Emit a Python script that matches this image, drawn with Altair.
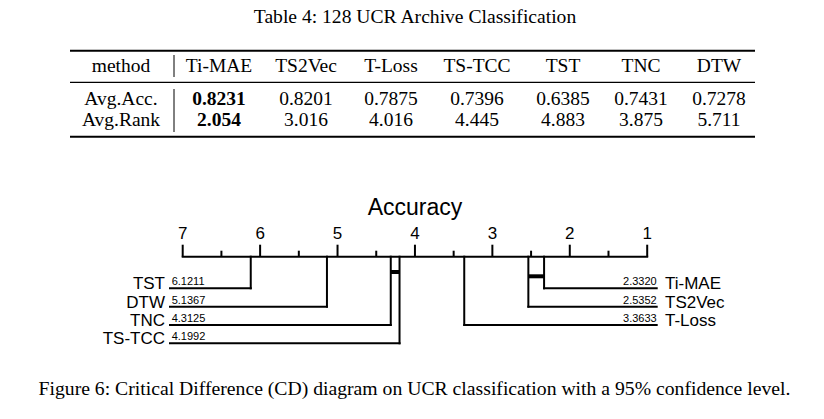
import altair as alt
import pandas as pd

# ---------------- data ----------------
methods = ["Ti-MAE", "TS2Vec", "T-Loss", "TS-TCC", "TST", "TNC", "DTW"]
avg_acc = [0.8231, 0.8201, 0.7875, 0.7396, 0.6385, 0.7431, 0.7278]
avg_rank = [2.054, 3.016, 4.016, 4.445, 4.883, 3.875, 5.711]
row_names = ["method", "Avg.Acc.", "Avg.Rank"]

cd_methods = ["TST", "DTW", "TNC", "TS-TCC", "T-Loss", "TS2Vec", "Ti-MAE"]
cd_ranks = [6.1211, 5.1367, 4.3125, 4.1992, 3.3633, 2.5352, 2.3320]
clique_low = [4.1992, 2.3320]
clique_high = [4.3125, 2.5352]
major_ticks = [1, 2, 3, 4, 5, 6, 7]
minor_ticks = [1.5, 2.5, 3.5, 4.5, 5.5, 6.5]

table_title = "Table 4: 128 UCR Archive Classification"
caption = "Figure 6: Critical Difference (CD) diagram on UCR classification with a 95% confidence level."
axis_title = "Accuracy"

SERIF = "Liberation Serif"
SANS = "Liberation Sans"

# ---------------- table frame ----------------
cells = []
for r, name in enumerate(row_names):
    cells.append({"ci": 0, "ri": r, "text": name, "bold": False})
best_acc = max(avg_acc)
best_rank = min(avg_rank)
for i, m in enumerate(methods):
    cells.append({"ci": i + 1, "ri": 0, "text": m, "bold": False})
    cells.append({"ci": i + 1, "ri": 1, "text": f"{avg_acc[i]:.4f}", "bold": avg_acc[i] == best_acc})
    cells.append({"ci": i + 1, "ri": 2, "text": f"{avg_rank[i]:.3f}", "bold": avg_rank[i] == best_rank})
cells = pd.DataFrame(cells)

tab_x = alt.Scale(domain=list(range(8)), range=[113, 211, 298, 383, 469, 555, 633, 711], nice=False, zero=False)
tab_y = alt.Scale(domain=[0, 1, 2], range=[63.7, 97, 117.7], nice=False, zero=False)

def table_text(bold):
    return alt.Chart(cells).transform_filter(
        "datum.bold" if bold else "!datum.bold"
    ).mark_text(
        font=SERIF, fontSize=19.5, baseline="alphabetic", align="center",
        color="black", fontWeight="bold" if bold else "normal"
    ).encode(
        x=alt.X("ci:Q", scale=tab_x, axis=None),
        y=alt.Y("ri:Q", scale=tab_y, axis=None),
        text="text:N",
    )

dummy = pd.DataFrame({"k": [0]})

def hrule(y, x1, x2, w):
    return alt.Chart(dummy).mark_rule(color="black", strokeWidth=w).encode(
        x=alt.value(x1), x2=alt.value(x2), y=alt.value(y))

def vrule(x, y1, y2, w):
    return alt.Chart(dummy).mark_rule(color="black", strokeWidth=w).encode(
        x=alt.value(x), y=alt.value(y1), y2=alt.value(y2))

title_layer = alt.Chart(dummy).mark_text(
    font=SERIF, fontSize=19.6, baseline="alphabetic", align="center", color="black",
    text=table_title
).encode(x=alt.value(407), y=alt.value(15.3))

caption_layer = alt.Chart(dummy).mark_text(
    font=SERIF, fontSize=19.7, baseline="alphabetic", align="center", color="black",
    text=caption
).encode(x=alt.value(406.5), y=alt.value(387))

# ---------------- CD diagram ----------------
cd = pd.DataFrame({"method": cd_methods, "rank": cd_ranks})
cd = cd.sort_values("rank", ascending=False).reset_index(drop=True)
n_left = (len(cd) + 1) // 2
left = cd.iloc[:n_left].copy()
left["side"] = "left"
left["row"] = range(len(left))
right = cd.iloc[n_left:].sort_values("rank").copy()
right["side"] = "right"
right["row"] = range(len(right))
cd = pd.concat([left, right], ignore_index=True)

AXIS_Y = 248.7
cd_x = alt.Scale(domain=[1, 7], range=[639.2, 174.7], nice=False, zero=False)
cd_y = alt.Scale(domain=[0, 3], range=[280.3, 335.3], nice=False, zero=False)

X = alt.X("rank:Q", scale=cd_x, axis=None)
Y = alt.Y("row:Q", scale=cd_y, axis=None)

ticks_df = pd.DataFrame({"t": major_ticks})
domain_df = pd.DataFrame({"lo": [min(major_ticks)], "hi": [max(major_ticks)],
                          "mid": [(min(major_ticks) + max(major_ticks)) / 2]})

axis_line = alt.Chart(domain_df).mark_rule(color="black", strokeWidth=2, strokeCap="square").encode(
    x=alt.X("lo:Q", scale=cd_x, axis=None), x2="hi:Q", y=alt.value(AXIS_Y))
major_layer = alt.Chart(ticks_df).mark_rule(color="black", strokeWidth=2).encode(
    x=alt.X("t:Q", scale=cd_x, axis=None), y=alt.value(AXIS_Y - 12), y2=alt.value(AXIS_Y))
minor_layer = alt.Chart(pd.DataFrame({"t": minor_ticks})).mark_rule(color="black", strokeWidth=2).encode(
    x=alt.X("t:Q", scale=cd_x, axis=None), y=alt.value(AXIS_Y - 6), y2=alt.value(AXIS_Y))
tick_labels = alt.Chart(ticks_df).mark_text(
    font=SANS, fontSize=17, align="center", baseline="alphabetic", color="black"
).encode(x=alt.X("t:Q", scale=cd_x, axis=None), y=alt.value(231), text=alt.Text("t:Q", format="d"))
axis_title_layer = alt.Chart(domain_df).mark_text(
    font=SANS, fontSize=23, align="center", baseline="alphabetic", color="black", text=axis_title
).encode(x=alt.X("mid:Q", scale=cd_x, axis=None), y=alt.value(207))

vert = alt.Chart(cd).mark_rule(color="black", strokeWidth=2, strokeCap="square").encode(
    x=X, y=Y, y2=alt.value(AXIS_Y))

horiz_left = alt.Chart(cd).transform_filter("datum.side == 'left'").mark_rule(
    color="black", strokeWidth=2, strokeCap="square").encode(x=X, x2=alt.value(162), y=Y)
horiz_right = alt.Chart(cd).transform_filter("datum.side == 'right'").mark_rule(
    color="black", strokeWidth=2, strokeCap="square").encode(x=X, x2=alt.value(648.7), y=Y)

name_left = alt.Chart(cd).transform_filter("datum.side == 'left'").mark_text(
    font=SANS, fontSize=17, align="right", baseline="alphabetic", dy=1, color="black"
).encode(x=alt.value(157), y=Y, text="method:N")
name_right = alt.Chart(cd).transform_filter("datum.side == 'right'").mark_text(
    font=SANS, fontSize=17, align="left", baseline="alphabetic", dy=1, color="black"
).encode(x=alt.value(657), y=Y, text="method:N")

val_left = alt.Chart(cd).transform_filter("datum.side == 'left'").mark_text(
    font=SANS, fontSize=11, align="left", baseline="alphabetic", dy=-3, color="black"
).encode(x=alt.value(163.7), y=Y, text=alt.Text("rank:Q", format=".4f"))
val_right = alt.Chart(cd).transform_filter("datum.side == 'right'").mark_text(
    font=SANS, fontSize=11, align="right", baseline="alphabetic", dy=-3, color="black"
).encode(x=alt.value(648.7), y=Y, text=alt.Text("rank:Q", format=".4f"))

cliques = pd.DataFrame({"lo": clique_low, "hi": clique_high, "level": list(range(len(clique_low)))})
clique_layer = alt.Chart(cliques).mark_rule(color="black", strokeWidth=4).encode(
    x=alt.X("lo:Q", scale=cd_x, axis=None), x2="hi:Q",
    y=alt.Y("level:Q", scale=alt.Scale(domain=[0, 1], range=[264, 268.3], nice=False, zero=False), axis=None),
)

chart = alt.layer(
    title_layer,
    hrule(42.7, 62, 747, 2), hrule(74.3, 62, 747, 1.2), hrule(128.7, 62, 747, 2),
    vrule(166, 47, 69, 1), vrule(166, 81, 124, 1),
    table_text(False), table_text(True),
    axis_line, major_layer, minor_layer, tick_labels, axis_title_layer,
    vert, horiz_left, horiz_right, name_left, name_right, val_left, val_right,
    clique_layer,
    caption_layer,
).resolve_scale(x="independent", y="independent").properties(
    width=808, height=403, padding=0,
    autosize=alt.AutoSizeParams(type="none"),
    background="white",
).configure_view(stroke=None)

chart.save("out.html", embed_options={"renderer": "svg", "actions": False})
